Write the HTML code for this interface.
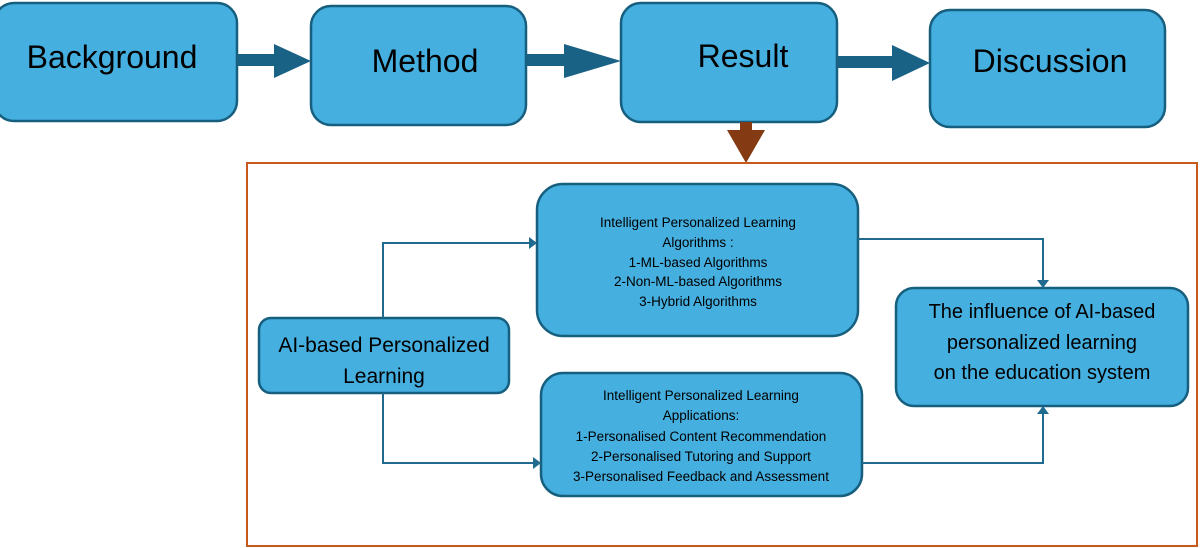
<!DOCTYPE html>
<html><head><meta charset="utf-8"><style>
html,body{margin:0;padding:0;background:#fff;}
svg{display:block;font-family:"Liberation Sans",sans-serif;}
</style></head><body>
<svg width="1200" height="548" viewBox="0 0 1200 548" xmlns="http://www.w3.org/2000/svg">
<g fill="#45afe0" stroke="#175f7f" stroke-width="2.5">
<rect x="-6" y="3" width="243" height="118" rx="20"/>
<rect x="311" y="6" width="215" height="119" rx="20"/>
<rect x="621" y="3" width="216" height="119" rx="20"/>
<rect x="930" y="10" width="235" height="117" rx="20"/>
<rect x="537" y="184" width="321" height="152" rx="26"/>
<rect x="541" y="373" width="321" height="123" rx="22"/>
<rect x="259" y="318" width="250" height="75" rx="12"/>
<rect x="896" y="288" width="292" height="118" rx="18"/>
</g>
<g fill="#1a6285">
<rect x="237" y="54" width="40" height="12"/><polygon points="274,44 311,61 274,78"/>
<rect x="526" y="54" width="42" height="12"/><polygon points="564,44 621,61 564,78"/>
<rect x="837" y="56" width="58" height="12"/><polygon points="892,45 930,63 892,81"/>
</g>
<rect x="740" y="122" width="12" height="12" fill="#843a12"/>
<polygon points="727,130 765,130 746,163" fill="#843a12"/>
<rect x="247" y="163" width="950" height="383" fill="none" stroke="#c55a1c" stroke-width="2"/>
<g fill="none" stroke="#1f6a8e" stroke-width="2">
<polyline points="383,318 383,243 530,243"/>
<polyline points="383,393 383,463 534,463"/>
<polyline points="858,239 1043,239 1043,281"/>
<polyline points="862,463 1043,463 1043,413"/>
</g>
<g fill="#1f6a8e">
<polygon points="529,237 537,243 529,249"/>
<polygon points="533,457 541,463 533,469"/>
<polygon points="1037,280 1043,288 1049,280"/>
<polygon points="1037,414 1043,406 1049,414"/>
</g>
<g fill="#000" text-anchor="middle">
<text x="112" y="68" font-size="32">Background</text>
<text x="425" y="72" font-size="32">Method</text>
<text x="743" y="67" font-size="32">Result</text>
<text x="1050" y="72" font-size="32">Discussion</text>
<g font-size="13.5">
<text x="698" y="227">Intelligent Personalized Learning</text>
<text x="698" y="247">Algorithms :</text>
<text x="698" y="267">1-ML-based Algorithms</text>
<text x="698" y="286">2-Non-ML-based Algorithms</text>
<text x="698" y="306">3-Hybrid Algorithms</text>
<text x="701" y="400">Intelligent Personalized Learning</text>
<text x="701" y="420">Applications:</text>
<text x="701" y="441">1-Personalised Content Recommendation</text>
<text x="701" y="461">2-Personalised Tutoring and Support</text>
<text x="701" y="481">3-Personalised Feedback and Assessment</text>
</g>
<text x="384" y="352" font-size="21">AI-based Personalized</text>
<text x="384" y="383" font-size="21">Learning</text>
<text x="1042" y="318" font-size="20">The influence of AI-based</text>
<text x="1042" y="349" font-size="20">personalized learning</text>
<text x="1042" y="379" font-size="20">on the education system</text>
</g>
</svg>
</body></html>
